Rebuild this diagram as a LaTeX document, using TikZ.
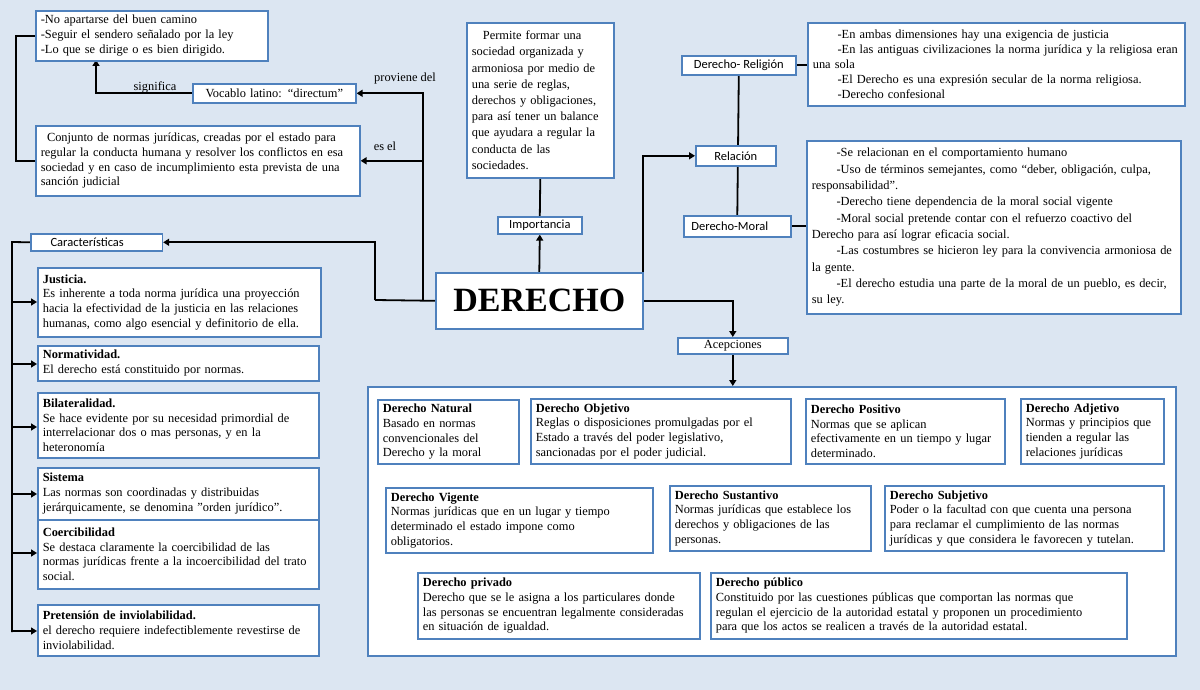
\documentclass[tikz,border=0pt]{standalone}
\usepackage{fontspec}
\setmainfont{Liberation Serif}
\newfontfamily\calfont{Carlito}
\usetikzlibrary{arrows.meta,backgrounds}
\definecolor{bg}{HTML}{DCE6F2}
\definecolor{bd}{HTML}{4F81BD}
\begin{document}
\begin{tikzpicture}[x=1pt,y=-1pt,
  bx/.style={draw=bd,line width=1.6pt,fill=white,anchor=north west,inner xsep=5pt,inner ysep=2pt,align=left,font=\fontsize{12.4}{14.8}\selectfont},
  lb/.style={draw=bd,line width=1.6pt,fill=white,anchor=north west,inner sep=1pt,align=center,font=\calfont\fontsize{12.5}{13}\selectfont},
  arr/.style={line width=1.8pt,-{Triangle[length=6pt,width=7pt]}},
  ln/.style={line width=1.8pt},
  tx/.style={font=\fontsize{12.4}{13}\selectfont}]
\useasboundingbox (0,0) rectangle (1200,690);
% top left
\node[bx,minimum width=232,minimum height=50,text width=222] (mean) at (35,10) {-No apartarse del buen camino\\-Seguir el sendero señalado por la ley\\-Lo que se dirige o es bien dirigido.};
\node[bx,minimum width=163,minimum height=19,text width=153,inner ysep=0pt,align=center] (voc) at (192,83) {Vocablo latino: “directum”};
\node[bx,minimum width=324,minimum height=70,text width=314] (conj) at (35,125) {\hspace*{0.5em}Conjunto de normas jurídicas, creadas por el estado para\\regular la conducta humana y resolver los conflictos en esa\\sociedad y en caso de incumplimiento esta prevista de una\\sanción judicial};
\node[tx] (t1) at (155,87) {significa};
\node[tx] (t2) at (405,79) {proviene del};
\node[tx] (t3) at (385,146) {es el};
% Derecho
\node[draw=bd,line width=1.6pt,fill=white,anchor=north west,minimum width=207,minimum height=56,font=\bfseries\fontsize{34}{36}\selectfont,inner sep=0pt] (dere) at (435,272) {DERECHO};
\node[lb,minimum width=84,minimum height=17] (imp) at (497,216) {\raisebox{3pt}{Importancia}};
\node[bx,minimum width=147,minimum height=155,text width=137,font=\fontsize{12.4}{16.2}\selectfont,inner ysep=4pt] (perm) at (466,22) {\hspace*{0.9em}Permite formar una\\sociedad organizada y\\armoniosa por medio de\\una serie de reglas,\\derechos y obligaciones,\\para así tener un balance\\que ayudara a regular la\\conducta de las\\sociedades.};
% caracteristicas
\node[lb,minimum width=130,minimum height=17] (car) at (30,233) {\hspace*{1.5em}Características\hspace*{3em}};
\node[bx,minimum width=283,minimum height=69,text width=273] (jus) at (37,267) {\textbf{Justicia.}\\Es inherente a toda norma jurídica una proyección\\hacia la efectividad de la justicia en las relaciones\\humanas, como algo esencial y definitorio de ella.};
\node[bx,minimum width=281,minimum height=35,text width=271] (nor) at (37,345) {\textbf{Normatividad.}\\El derecho está constituido por normas.};
\node[bx,minimum width=281,minimum height=65,text width=271] (bil) at (37,392) {\textbf{Bilateralidad.}\\Se hace evidente por su necesidad primordial de\\interrelacionar dos o mas personas, y en la\\heteronomía};
\node[bx,minimum width=281,minimum height=52,text width=271] (sis) at (37,467) {\textbf{Sistema}\\Las normas son coordinadas y distribuidas\\jerárquicamente, se denomina \char"22orden jurídico\char"22.};
\node[bx,minimum width=281,minimum height=69,text width=271] (coe) at (37,519) {\textbf{Coercibilidad}\\Se destaca claramente la coercibilidad de las\\normas jurídicas frente a la incoercibilidad del trato\\social.};
\node[bx,minimum width=281,minimum height=51,text width=271] (pre) at (37,604) {\textbf{Pretensión de inviolabilidad.}\\el derecho requiere indefectiblemente revestirse de\\inviolabilidad.};
% right
\node[lb,minimum width=114,minimum height=19] (dr) at (681,55) {Derecho- Religión};
\node[lb,minimum width=80,minimum height=20] (rel) at (695,145) {Relación};
\node[lb,minimum width=107,minimum height=21] (dm) at (683,215) {\hspace*{-1.2em}Derecho-Moral};
\node[bx,minimum width=377,minimum height=83,text width=367,font=\fontsize{12.4}{14.8}\selectfont] (drb) at (807,22) {\hspace*{2em}-En ambas dimensiones hay una exigencia de justicia\\\hspace*{2em}-En las antiguas civilizaciones la norma jurídica y la religiosa eran\\una sola\\\hspace*{2em}-El Derecho es una expresión secular de la norma religiosa.\\\hspace*{2em}-Derecho confesional};
\node[bx,minimum width=374,minimum height=173,text width=364,font=\fontsize{12.4}{16.3}\selectfont] (dmb) at (806,140) {\hspace*{2em}-Se relacionan en el comportamiento humano\\\hspace*{2em}-Uso de términos semejantes, como “deber, obligación, culpa,\\responsabilidad”.\\\hspace*{2em}-Derecho tiene dependencia de la moral social vigente\\\hspace*{2em}-Moral social pretende contar con el refuerzo coactivo del\\Derecho para así lograr eficacia social.\\\hspace*{2em}-Las costumbres se hicieron ley para la convivencia armoniosa de\\la gente.\\\hspace*{2em}-El derecho estudia una parte de la moral de un pueblo, es decir,\\su ley.};
\node[bx,minimum width=110,minimum height=16,text width=100,inner ysep=0pt,align=center] (acep) at (677,337) {Acepciones};
% acepciones box
\node[draw=bd,line width=1.6pt,fill=white,anchor=north west,minimum width=808,minimum height=269,inner sep=0pt] (big) at (367,386) {};
\begin{scope}[every node/.append style={font=\fontsize{12.1}{15.3}\selectfont}]
\node[bx,minimum width=141,minimum height=64,text width=131] (n1) at (377,399) {\textbf{Derecho Natural}\\Basado en normas\\convencionales del\\Derecho y la moral};
\node[bx,minimum width=260,minimum height=65,text width=250] (n2) at (530,398) {\textbf{Derecho Objetivo}\\Reglas o disposiciones promulgadas por el\\Estado a través del poder legislativo,\\sancionadas por el poder judicial.};
\node[bx,minimum width=199,minimum height=65,text width=189] (n3) at (805,398) {\textbf{Derecho Positivo}\\Normas que se aplican\\efectivamente en un tiempo y lugar\\determinado.};
\node[bx,minimum width=143,minimum height=65,text width=133] (n4) at (1020,398) {\textbf{Derecho Adjetivo}\\Normas y principios que\\tienden a regular las\\relaciones jurídicas};
\node[bx,minimum width=267,minimum height=65,text width=257] (n5) at (385,487) {\textbf{Derecho Vigente}\\Normas jurídicas que en un lugar y tiempo\\determinado el estado impone como\\obligatorios.};
\node[bx,minimum width=201,minimum height=65,text width=191] (n6) at (669,485) {\textbf{Derecho Sustantivo}\\Normas jurídicas que establece los\\derechos y obligaciones de las\\personas.};
\node[bx,minimum width=279,minimum height=65,text width=269] (n7) at (884,485) {\textbf{Derecho Subjetivo}\\Poder o la facultad con que cuenta una persona\\para reclamar el cumplimiento de las normas\\jurídicas y que considera le favorecen y tutelan.};
\node[bx,minimum width=282,minimum height=66,text width=272] (n8) at (417,572) {\textbf{Derecho privado}\\Derecho que se le asigna a los particulares donde\\las personas se encuentran legalmente consideradas\\en situación de igualdad.};
\node[bx,minimum width=416,minimum height=66,text width=406] (n9) at (710,572) {\textbf{Derecho público}\\Constituido por las cuestiones públicas que comportan las normas que\\regulan el ejercicio de la autoridad estatal y proponen un procedimiento\\para que los actos se realicen a través de la autoridad estatal.};
\end{scope}
% connectors
\begin{scope}[on background layer]
\fill[bg] (0,0) rectangle (1200,690);
\coordinate (m1) at (96,60);
\coordinate (j1) at (423,300);
\coordinate (j2) at (375,300);
\coordinate (j3) at (643,300);
\coordinate (sp) at (12,242);
\coordinate (sb) at (12,632);
\draw[arr] (voc.west) -| (m1);
\draw[ln] (mean.west) -- ++(-19,0) |- (conj.west);
\draw[ln] (dere.west) -- (j2);
\draw[arr] (j1) |- (voc.east);
\draw[arr] (j1) |- (conj.east);
\draw[arr] (j2) |- (car.east);
\draw[ln] (car.west) -- (sp) -- (sb);
\foreach \n/\yy in {jus/302,nor/364,bil/427,sis/494,coe/553,pre/631}
  \draw[arr] (12,\yy) -- (\n.west |- 0,\yy);
\draw[arr] (dere.north) -- (imp.south);
\draw[ln] (imp.north) -- (perm.south);
\draw[arr] (dere.east) -| (acep.north);
\draw[arr] (j3) |- (rel.west);
\draw[ln] (dr.south) -- (dm.north);
\draw[ln] (dr.east) -- (drb.west |- dr.east);
\draw[ln] (dm.east) -- (dmb.west |- dm.east);
\draw[arr] (acep.south) -- (big.north -| acep.south);
\end{scope}
\end{tikzpicture}
\end{document}
